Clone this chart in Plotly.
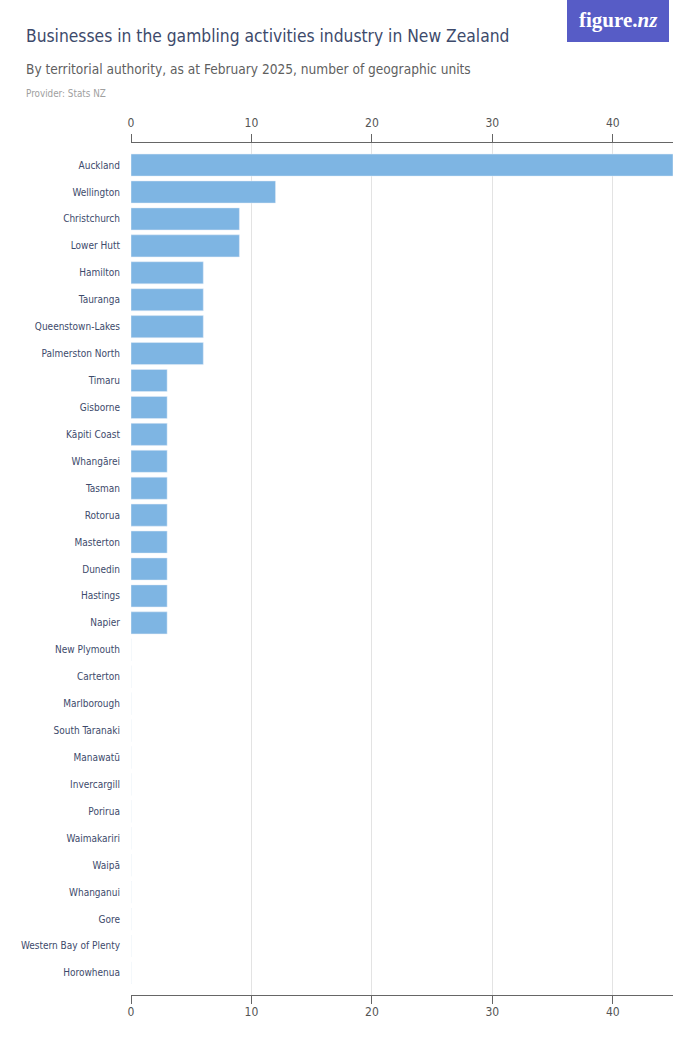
import plotly.graph_objects as go

categories = ["Auckland", "Wellington", "Christchurch", "Lower Hutt", "Hamilton", "Tauranga",
              "Queenstown-Lakes", "Palmerston North", "Timaru", "Gisborne", "Kāpiti Coast",
              "Whangārei", "Tasman", "Rotorua", "Masterton", "Dunedin", "Hastings", "Napier",
              "New Plymouth", "Carterton", "Marlborough", "South Taranaki", "Manawatū",
              "Invercargill", "Porirua", "Waimakariri", "Waipā", "Whanganui", "Gore",
              "Western Bay of Plenty", "Horowhenua"]
values = [45, 12, 9, 9, 6, 6, 6, 6, 3, 3, 3, 3, 3, 3, 3, 3, 3, 3,
          0, 0, 0, 0, 0, 0, 0, 0, 0, 0, 0, 0, 0]
tick_vals = [0, 10, 20, 30, 40]

FONT = "DejaVu Sans Condensed, Roboto, sans-serif"
W, H = 700, 1050
L, R, T, B = 131, 673, 143, 995


def px(x):
    return (x - L) / (R - L)


def py(y):
    return (B - y) / (B - T)


fig = go.Figure()
fig.add_trace(go.Bar(x=values, y=categories, orientation="h", marker=dict(color="#7eb5e3", line=dict(width=0)),
                     width=0.82, hoverinfo="x+y"))
fig.add_trace(go.Bar(x=values, y=categories, orientation="h", marker=dict(color="rgba(0,0,0,0)"),
                     width=0.82, xaxis="x2", hoverinfo="skip", showlegend=False))

axis_common = dict(range=[0, 45], tickvals=tick_vals, showgrid=True, gridcolor="#e3e3e3", gridwidth=1,
                   zeroline=False, showline=True, linecolor="#666666", linewidth=1,
                   ticks="outside", ticklen=8, tickcolor="#666666", automargin=False,
                   tickfont=dict(family=FONT, size=12, color="#555555"), fixedrange=True)

fig.update_layout(
    width=W, height=H,
    margin=dict(l=L, r=W - R, t=T, b=H - B, autoexpand=False),
    paper_bgcolor="white", plot_bgcolor="white",
    showlegend=False, bargap=0.18,
    xaxis=dict(side="bottom", ticklabelstandoff=-2, **axis_common),
    xaxis2=dict(side="top", overlaying="x", matches="x", ticklabelstandoff=2, **axis_common),
    yaxis=dict(categoryorder="array", categoryarray=categories, range=[30.82, -0.82],
               showgrid=False, zeroline=False, showline=False, ticks="", ticklabelstandoff=10,
               automargin=False,
               tickfont=dict(family=FONT, size=10, color="#3d4a6b"), fixedrange=True),
    font=dict(family=FONT),
)

fig.add_annotation(text="Businesses in the gambling activities industry in New Zealand",
                   xref="paper", yref="paper", x=px(24), y=py(36), xanchor="left", yanchor="middle",
                   showarrow=False, font=dict(family=FONT, size=17.3, color="#3d4a6b"))
fig.add_annotation(text="By territorial authority, as at February 2025, number of geographic units",
                   xref="paper", yref="paper", x=px(24), y=py(69), xanchor="left", yanchor="middle",
                   showarrow=False, font=dict(family=FONT, size=13.6, color="#5f5f5f"))
fig.add_annotation(text="Provider: Stats NZ",
                   xref="paper", yref="paper", x=px(24), y=py(94), xanchor="left", yanchor="middle",
                   showarrow=False, font=dict(family=FONT, size=9.8, color="#a0a0a0"))

fig.add_shape(type="rect", xref="paper", yref="paper", x0=px(567), x1=px(669), y0=py(42), y1=py(-2),
              fillcolor="#575cc6", line=dict(width=0), layer="above")
fig.add_annotation(text="<b>figure.<i>nz</i></b>", xref="paper", yref="paper", x=px(618), y=py(20),
                   xanchor="center", yanchor="middle", showarrow=False,
                   font=dict(family="Liberation Serif, serif", size=21, color="white"))

fig.write_html("out.html")
